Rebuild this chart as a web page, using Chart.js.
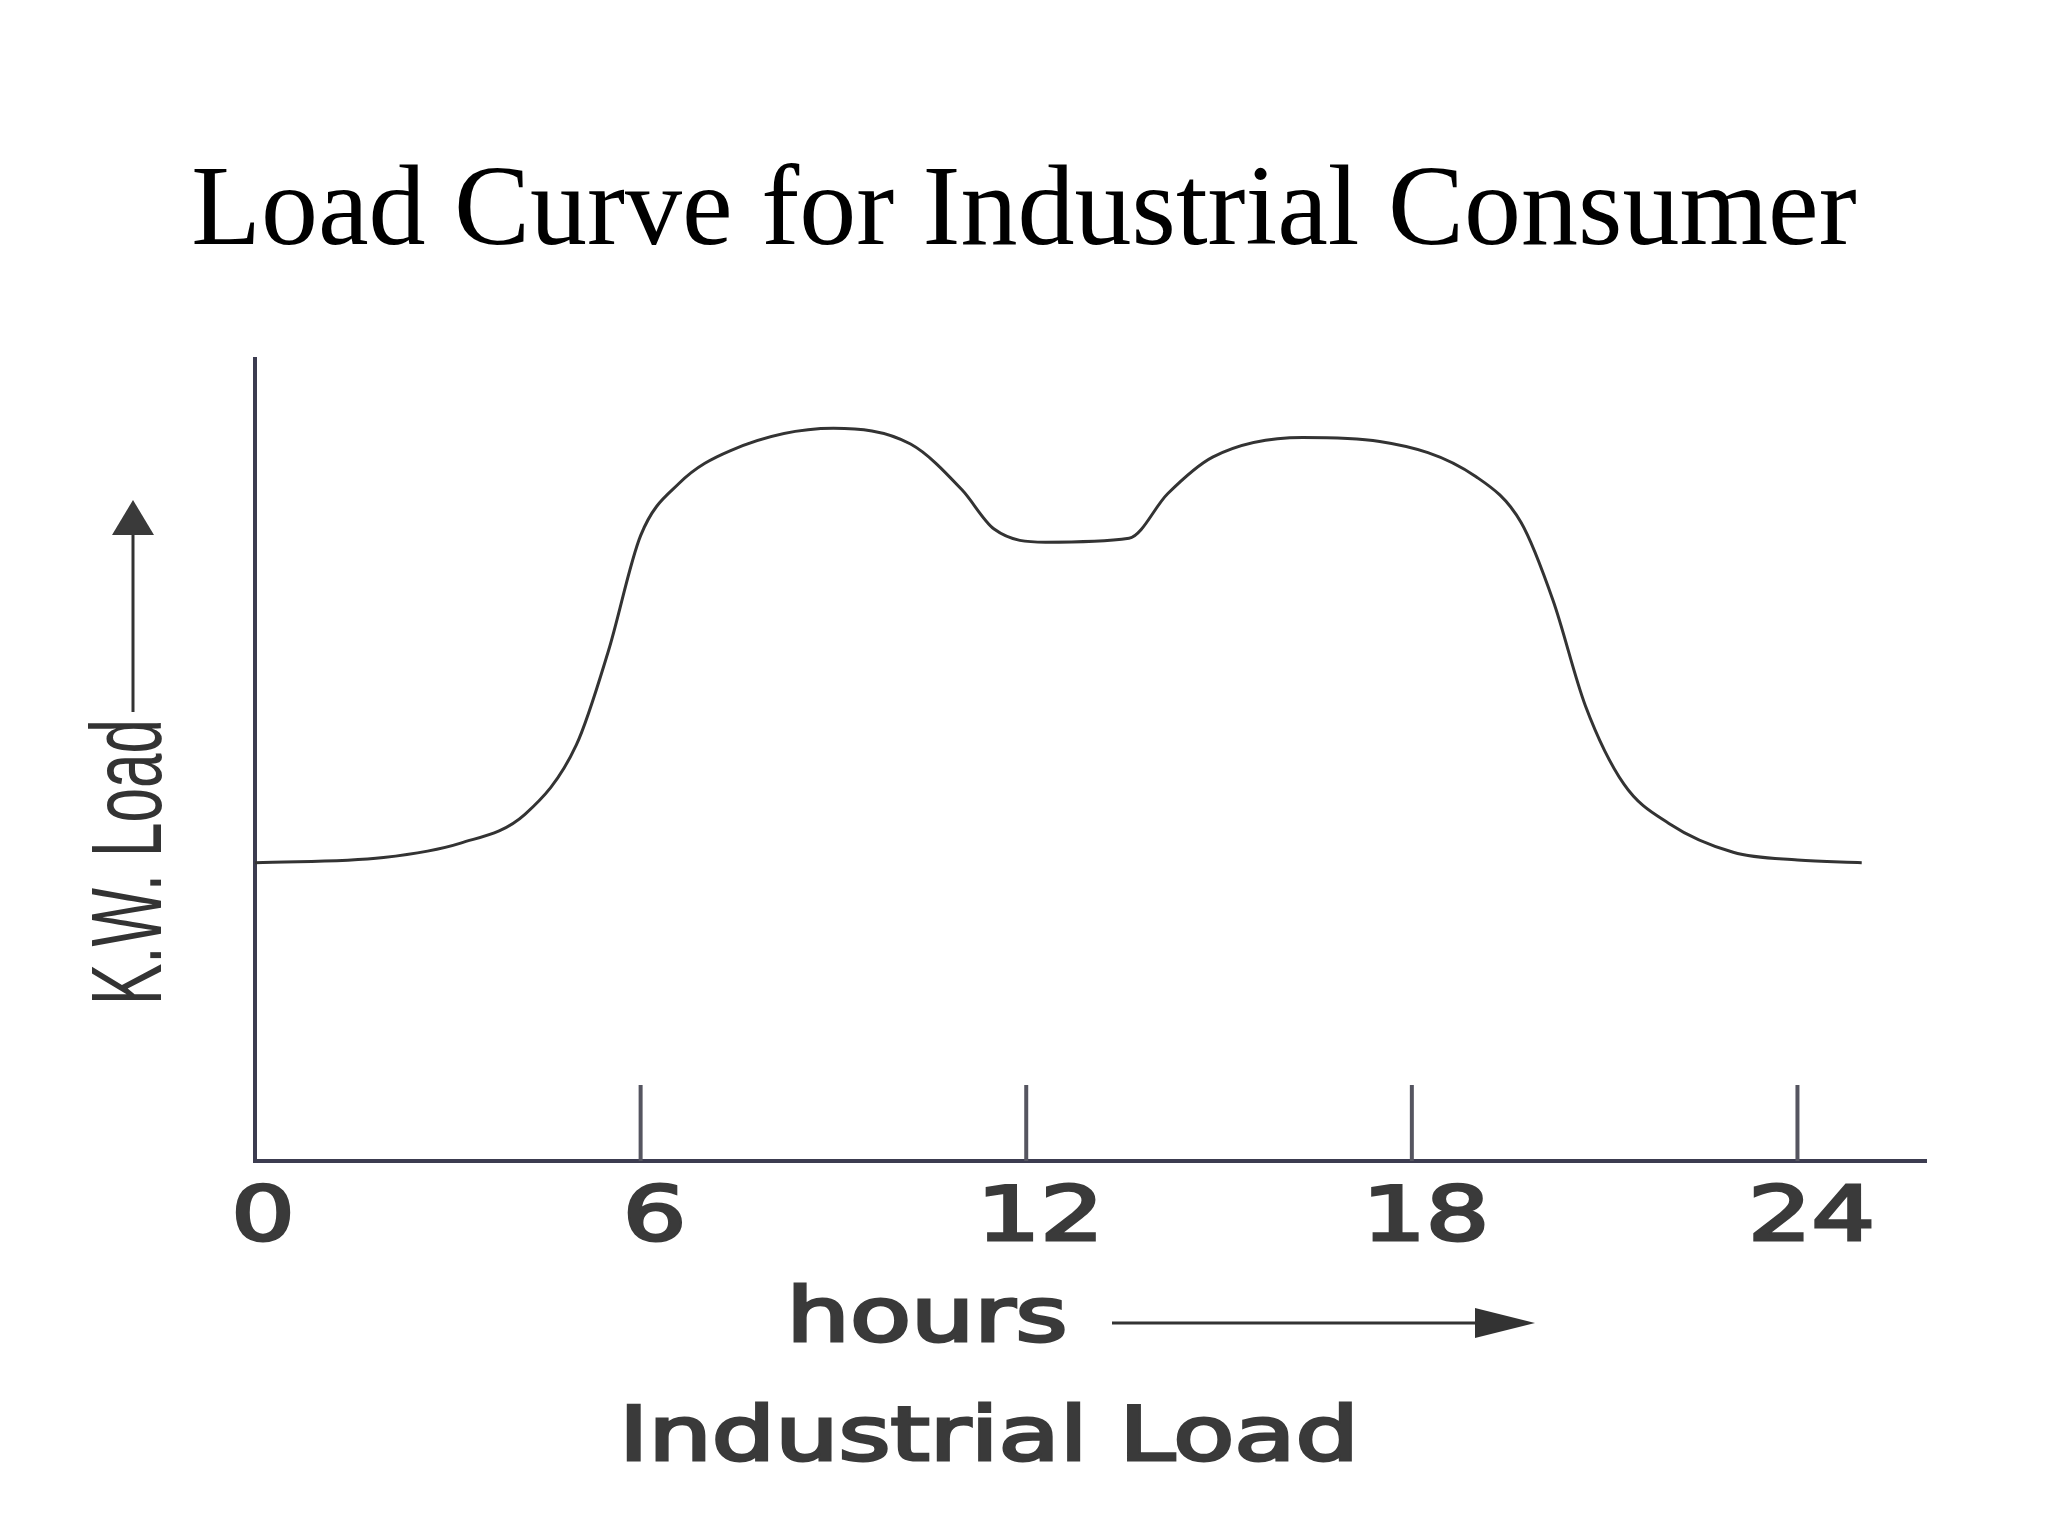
<!DOCTYPE html>
<html><head><meta charset="utf-8">
<script src="https://cdn.jsdelivr.net/npm/chart.js@4"></script>
<style>html,body{margin:0;padding:0;background:#fff}canvas{display:block}</style>
</head><body>
<canvas id="c" width="2048" height="1536"></canvas>
<script>
const hours = [0,2,3.2,4.2,5,5.5,6,6.6,7.4,9,10.2,11,11.5,12.3,13.6,14.2,14.9,16.3,17.5,19,19.7,20.2,20.7,21.3,22,23,24,25];
const load  = [228,232,243,265,318,390,478,518,543,560,548,513,483,473,476,510,538,553,550,523,488,428,348,288,258,236,230,228];
const tickHours = [0,6,12,18,24];
const tickLabels = ['0','6','12','18','24'];
const titleText = 'Load Curve for Industrial Consumer';
const xTitle = 'hours';
const yTitle = 'K.W. Load';
const caption = 'Industrial Load';

const deco = {
  id:'deco',
  afterDraw(chart){
    const c = chart.ctx, xs = chart.scales.x, ys = chart.scales.y;
    const y0 = ys.getPixelForValue(0);
    c.save();
    c.strokeStyle = '#555560'; c.lineWidth = 4;
    tickHours.forEach(h=>{ if(h===0) return; const x=xs.getPixelForValue(h);
      c.beginPath(); c.moveTo(x,y0); c.lineTo(x,y0-76); c.stroke(); });
    c.fillStyle = '#3a3a3a'; c.textAlign='center'; c.textBaseline='middle';
    c.font = '74px "DejaVu Sans"';
    tickHours.forEach((h,i)=>{ const x=xs.getPixelForValue(h)+ (i===0?8:14);
      c.save(); c.translate(x,1221); c.scale(1.35,1); c.lineWidth=3; c.strokeStyle='#3a3a3a';
      c.strokeText(tickLabels[i],0,0); c.fillText(tickLabels[i],0,0); c.restore(); });
    c.save(); c.translate(927,1322); c.scale(1.35,1); c.lineWidth=3; c.strokeStyle='#3a3a3a';
    c.strokeText(xTitle,0,0); c.fillText(xTitle,0,0); c.restore();
    c.strokeStyle='#333'; c.lineWidth=3;
    c.beginPath(); c.moveTo(1112,1323); c.lineTo(1490,1323); c.stroke();
    c.fillStyle='#333'; c.beginPath(); c.moveTo(1535,1323); c.lineTo(1475,1308); c.lineTo(1475,1338); c.closePath(); c.fill();
    c.fillStyle='#3a3a3a';
    c.save(); c.translate(989,1441); c.scale(1.35,1); c.lineWidth=3; c.strokeStyle='#3a3a3a';
    c.strokeText(caption,0,0); c.fillText(caption,0,0); c.restore();
    c.save(); c.translate(133,862); c.rotate(-Math.PI/2); c.scale(0.62,1);
    c.font='100px "Liberation Sans"'; c.fillStyle='#333'; c.fillText(yTitle,0,0); c.restore();
    c.strokeStyle='#333'; c.lineWidth=3;
    c.beginPath(); c.moveTo(133,712); c.lineTo(133,525); c.stroke();
    c.beginPath(); c.moveTo(133,500); c.lineTo(112,535); c.lineTo(154,535); c.closePath(); c.fill();
    c.fillStyle='#000'; c.font='114px "Liberation Serif"';
    c.textBaseline='alphabetic'; c.fillText(titleText,1024,244);
    c.restore();
  }
};

new Chart(document.getElementById('c'),{
  type:'line',
  data:{datasets:[{data:hours.map((h,i)=>({x:h,y:load[i]})),borderColor:'#333',borderWidth:3,
    pointRadius:0,cubicInterpolationMode:'monotone',fill:false}]},
  options:{responsive:false,animation:false,devicePixelRatio:1,
    layout:{padding:{left:247,top:359,right:122,bottom:367}},
    plugins:{legend:{display:false},tooltip:{enabled:false}},
    scales:{
      x:{type:'linear',min:0,max:26,grid:{display:false},ticks:{display:false},
         border:{display:true,color:'#3c3c50',width:4}},
      y:{min:0,max:613,grid:{display:false},ticks:{display:false},
         border:{display:true,color:'#3c3c50',width:4}}
    }},
  plugins:[deco]
});
</script>
</body></html>
